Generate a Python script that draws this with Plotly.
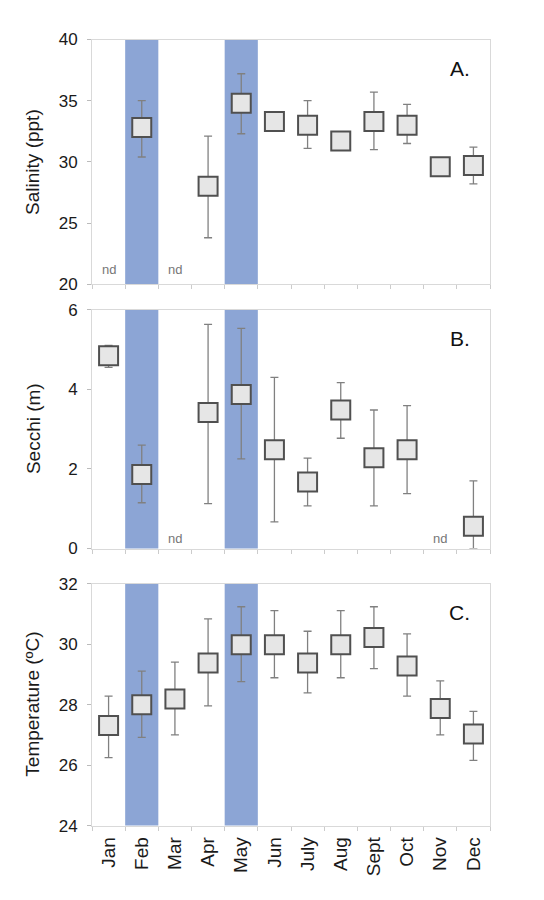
import plotly.graph_objects as go

months = ["Jan", "Feb", "Mar", "Apr", "May", "Jun", "July", "Aug", "Sept", "Oct", "Nov", "Dec"]

# Salinity (ppt): mean, upper and lower ends of error bars (None = no data)
sal_mean = [None, 32.8, None, 28.0, 34.8, 33.3, 33.0, 31.7, 33.3, 33.0, 29.6, 29.7]
sal_hi   = [None, 35.0, None, 32.1, 37.2, 33.8, 35.0, 32.2, 35.7, 34.7, 30.0, 31.2]
sal_lo   = [None, 30.4, None, 23.8, 32.3, 32.8, 31.1, 31.2, 31.0, 31.5, 29.2, 28.2]

# Secchi (m)
sec_mean = [4.84, 1.86, None, 3.42, 3.87, 2.48, 1.67, 3.48, 2.28, 2.48, None, 0.56]
sec_hi   = [5.10, 2.60, None, 5.63, 5.53, 4.30, 2.27, 4.17, 3.48, 3.59, None, 1.70]
sec_lo   = [4.55, 1.15, None, 1.13, 2.25, 0.67, 1.07, 2.77, 1.07, 1.38, None, 0.00]

# Temperature (°C)
tmp_mean = [27.31, 28.00, 28.19, 29.38, 29.98, 29.98, 29.38, 29.98, 30.22, 29.28, 27.87, 27.03]
tmp_hi   = [28.28, 29.11, 29.41, 30.84, 31.24, 31.11, 30.43, 31.11, 31.24, 30.34, 28.79, 27.78]
tmp_lo   = [26.25, 26.92, 27.00, 27.96, 28.76, 28.89, 28.39, 28.89, 29.19, 28.28, 27.00, 26.16]

band_months = ["Feb", "May"]

panels = [
    dict(mean=sal_mean, hi=sal_hi, lo=sal_lo, title="Salinity (ppt)", label="A.",
         rng=[20, 40], ticks=[20, 25, 30, 35, 40], nd=[("Jan", 21.2), ("Mar", 21.2)]),
    dict(mean=sec_mean, hi=sec_hi, lo=sec_lo, title="Secchi (m)", label="B.",
         rng=[0, 6], ticks=[0, 2, 4, 6], nd=[("Mar", 0.25), ("Nov", 0.25)]),
    dict(mean=tmp_mean, hi=tmp_hi, lo=tmp_lo, title="Temperature (ºC)", label="C.",
         rng=[24, 32], ticks=[24, 26, 28, 30, 32], nd=[]),
]

W, H = 544, 900
x_dom = [84 / W, 482 / W]
y_px = [(23, 273), (299, 543), (579, 826)]

FONT = "Liberation Sans, Arial, sans-serif"
fig = go.Figure()
layout = dict(
    width=W, height=H, margin=dict(l=0, r=0, t=0, b=0),
    paper_bgcolor="white", plot_bgcolor="white", showlegend=False,
    font=dict(family=FONT, color="#1a1a1a"),
)
shapes, annotations = [], []

for i, p in enumerate(panels):
    n = "" if i == 0 else str(i + 1)
    xa, ya = "x" + n, "y" + n
    top, bot = y_px[i]
    ydom = [1 - bot / H, 1 - top / H]
    plus = [None if m is None else h - m for m, h in zip(p["mean"], p["hi"])]
    minus = [None if m is None else m - l for m, l in zip(p["mean"], p["lo"])]
    fig.add_trace(go.Scatter(
        x=months, y=p["mean"], mode="markers", xaxis=xa, yaxis=ya,
        marker=dict(symbol="square", size=19, color="#e6e6e6",
                    line=dict(color="#505050", width=2)),
        error_y=dict(type="data", symmetric=False, array=plus, arrayminus=minus,
                     color="#808080", thickness=1.3, width=4),
        cliponaxis=False,
    ))
    last = i == len(panels) - 1
    layout["xaxis" + n] = dict(
        domain=x_dom, anchor=ya, type="category", categoryorder="array",
        categoryarray=months, range=[-0.5, 11.5],
        showline=True, mirror=True, linecolor="#d9d9d9", linewidth=1,
        showgrid=False, zeroline=False,
        ticks="outside", tickson="boundaries", ticklen=4, tickcolor="#cccccc",
        showticklabels=last, tickangle=-90, ticklabelstandoff=3,
        tickfont=dict(size=19, color="#1a1a1a", family=FONT),
    )
    layout["yaxis" + n] = dict(
        domain=ydom, anchor=xa, range=p["rng"], tickvals=p["ticks"],
        showline=True, mirror=True, linecolor="#d9d9d9", linewidth=1,
        showgrid=False, zeroline=False,
        ticks="outside", ticklen=4, tickcolor="#bbbbbb", ticklabelstandoff=6,
        tickfont=dict(size=17, color="#1a1a1a", family=FONT),
    )
    for bm in band_months:
        k = months.index(bm)
        shapes.append(dict(type="rect", xref=xa, yref=ya + " domain",
                           x0=k - 0.5, x1=k + 0.5, y0=0, y1=1,
                           fillcolor="#8CA5D5", line=dict(width=0), layer="below"))
    annotations.append(dict(text=p["title"], xref="paper", yref="paper",
                            x=25 / W, y=(ydom[0] + ydom[1]) / 2, textangle=-90,
                            showarrow=False, font=dict(size=19, color="#1a1a1a", family=FONT),
                            xanchor="center", yanchor="middle"))
    annotations.append(dict(text=p["label"], xref=xa + " domain", yref=ya + " domain",
                            x=0.955, y=0.88, showarrow=False, xanchor="right",
                            yanchor="middle", font=dict(size=21, color="#111", family=FONT)))
    for m, yv in p["nd"]:
        annotations.append(dict(text="nd", xref=xa, yref=ya, x=m, y=yv,
                                showarrow=False, font=dict(size=13, color="#777", family=FONT)))

layout["shapes"] = shapes
layout["annotations"] = annotations
fig.update_layout(**layout)
fig.write_html("out.html")
